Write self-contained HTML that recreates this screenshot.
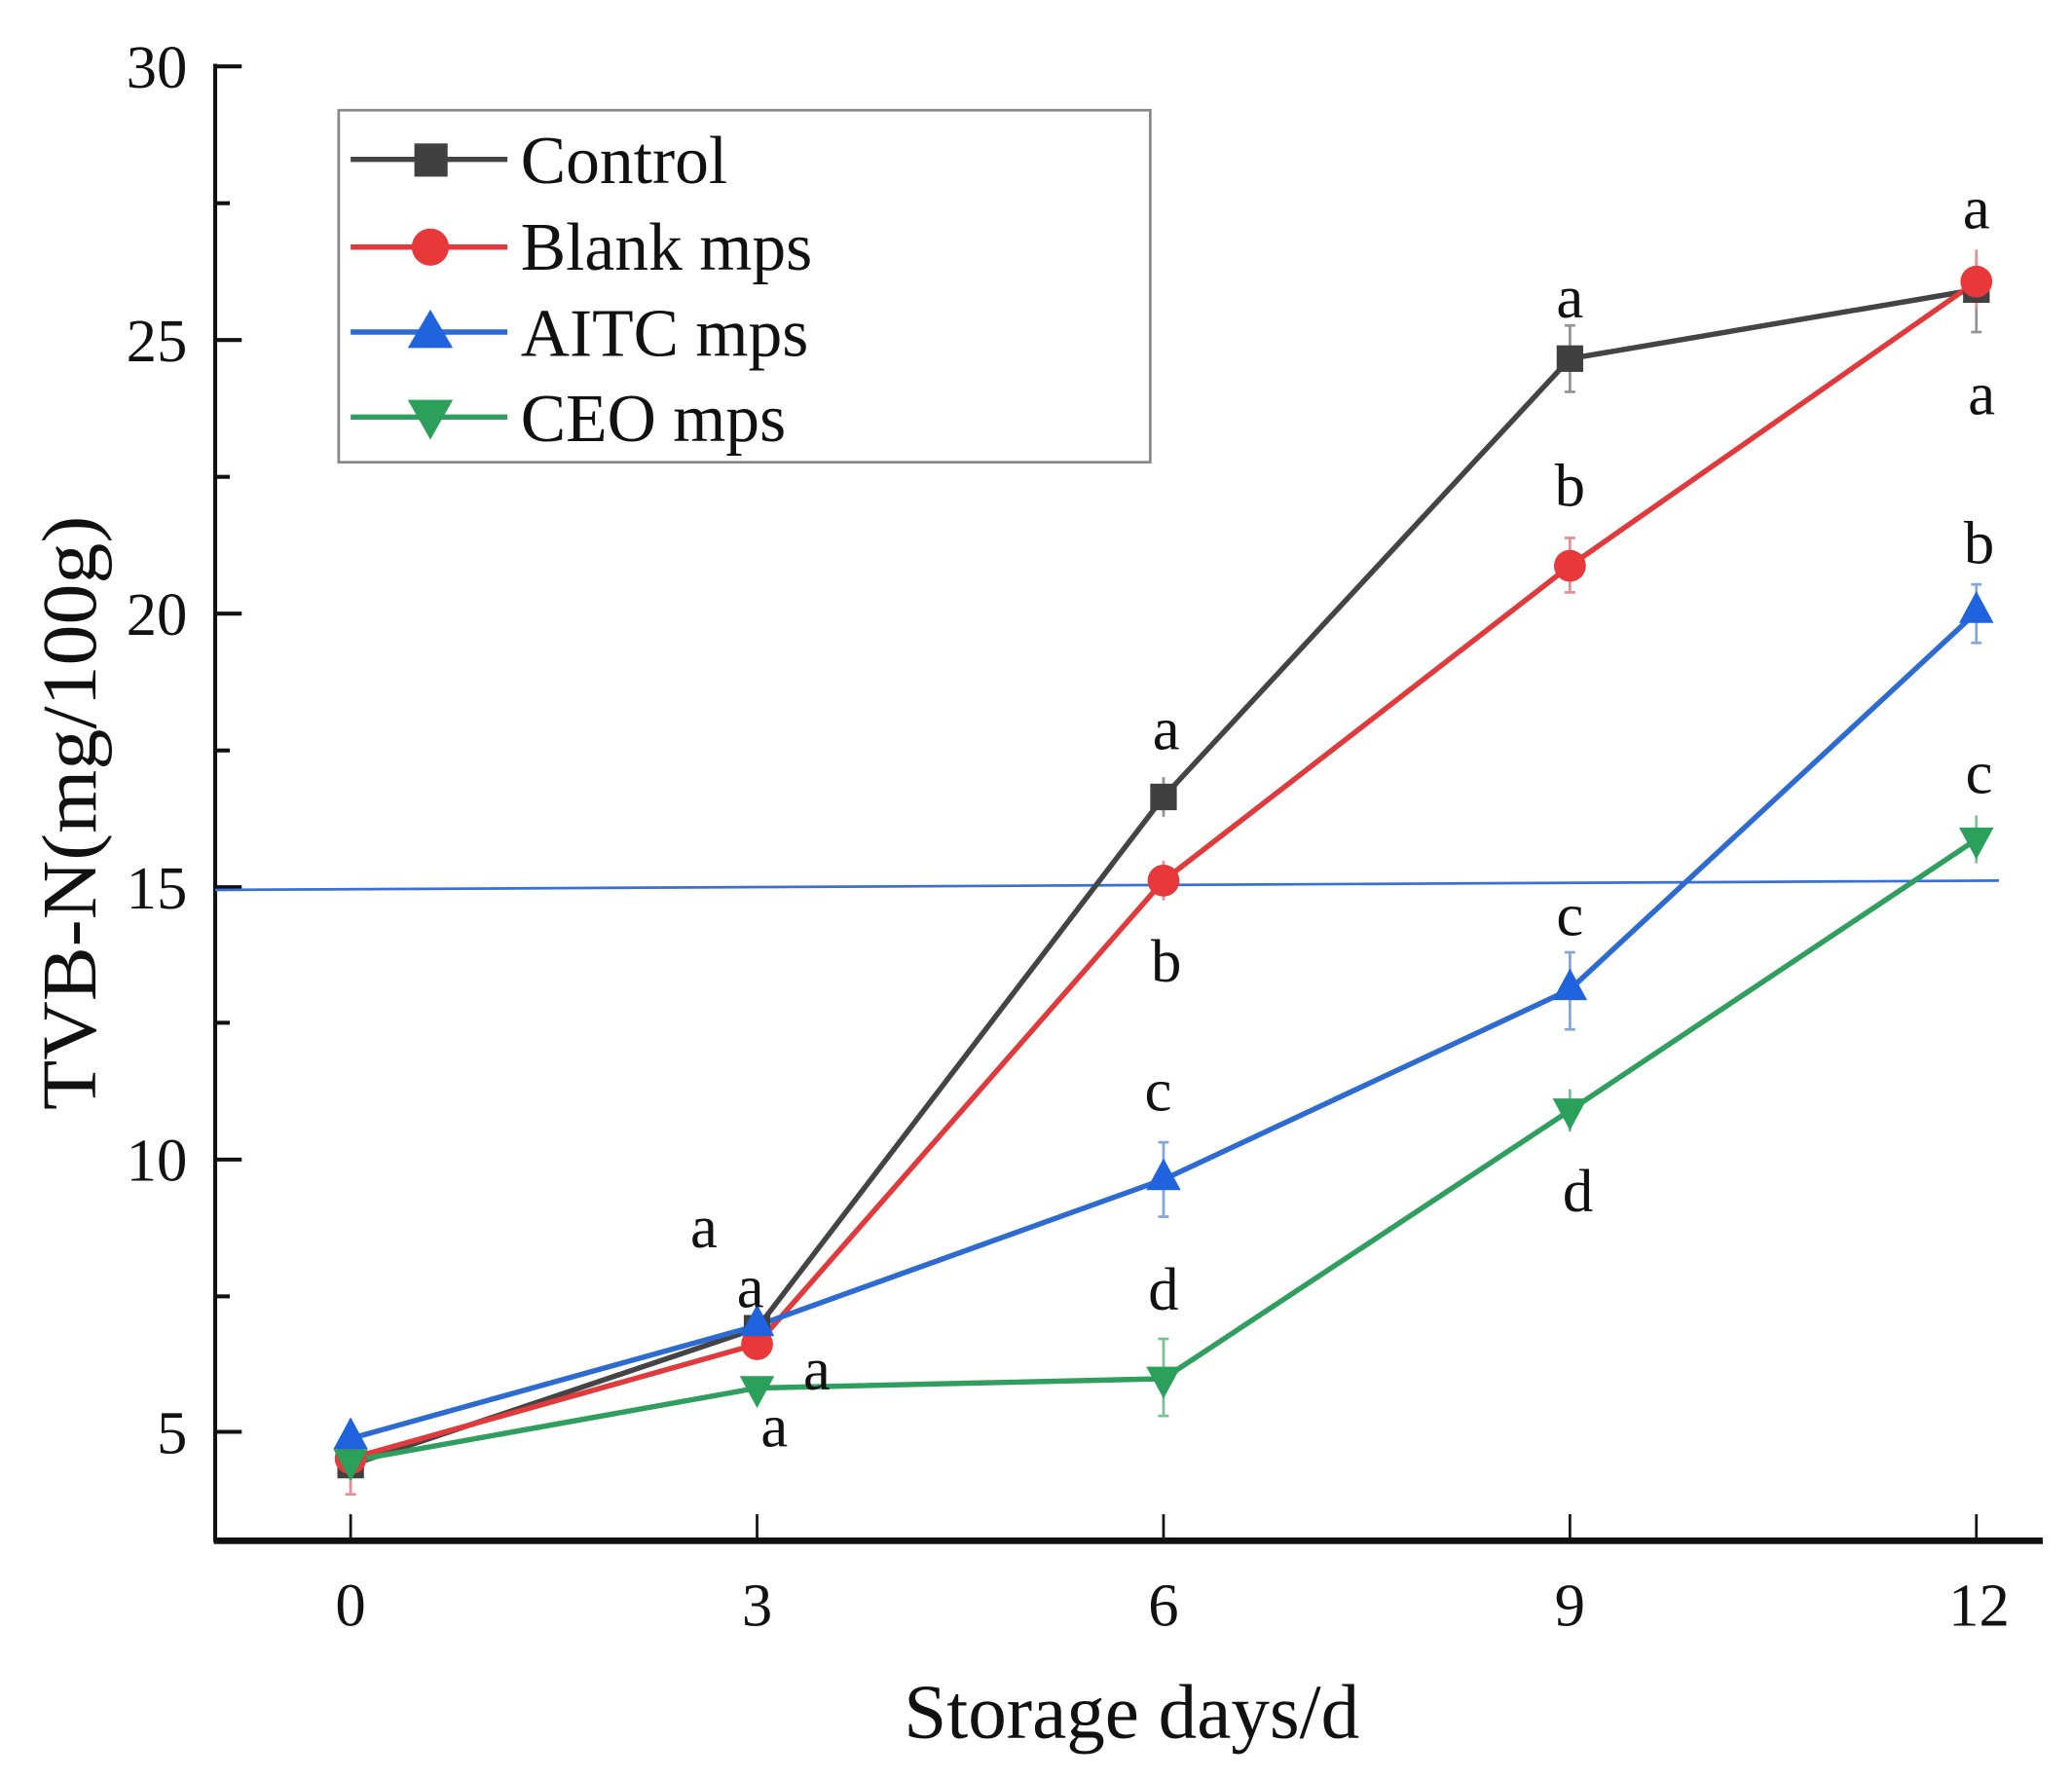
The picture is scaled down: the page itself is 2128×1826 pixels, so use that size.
<!DOCTYPE html>
<html><head><meta charset="utf-8"><style>
html,body{margin:0;padding:0;background:#fff;}
svg{display:block;}
text{font-family:"Liberation Serif",serif;fill:#111;}
</style></head><body>
<svg width="2128" height="1826" viewBox="0 0 1560 1338.6" preserveAspectRatio="none" xmlns="http://www.w3.org/2000/svg">
<rect width="1560" height="1338.6" fill="#fff"/>
<line x1="162" y1="48" x2="162" y2="1161" stroke="#111" stroke-width="3"/>
<line x1="161" y1="1160" x2="1538" y2="1160" stroke="#111" stroke-width="5"/>
<g stroke="#111" stroke-width="3">
<line x1="162" y1="50" x2="182" y2="50"/><line x1="162" y1="256" x2="182" y2="256"/>
<line x1="162" y1="462" x2="182" y2="462"/><line x1="162" y1="668" x2="182" y2="668"/>
<line x1="162" y1="873" x2="182" y2="873"/><line x1="162" y1="1078" x2="182" y2="1078"/>
<line x1="162" y1="153" x2="173" y2="153"/><line x1="162" y1="359" x2="173" y2="359"/>
<line x1="162" y1="565" x2="173" y2="565"/><line x1="162" y1="770" x2="173" y2="770"/>
<line x1="162" y1="976" x2="173" y2="976"/>
</g>
<g stroke="#111" stroke-width="2">
<line x1="264" y1="1160" x2="264" y2="1140"/><line x1="570" y1="1160" x2="570" y2="1140"/>
<line x1="876" y1="1160" x2="876" y2="1140"/><line x1="1182" y1="1160" x2="1182" y2="1140"/>
<line x1="1488" y1="1160" x2="1488" y2="1140"/>
</g>
<g font-size="46" text-anchor="end">
<text x="141" y="66">30</text><text x="141" y="272">25</text><text x="141" y="478">20</text>
<text x="141" y="684">15</text><text x="141" y="889">10</text><text x="141" y="1094">5</text>
</g>
<g font-size="46" text-anchor="middle">
<text x="264" y="1224">0</text><text x="570" y="1224">3</text><text x="876" y="1224">6</text>
<text x="1182" y="1224">9</text><text x="1490" y="1224">12</text>
</g>
<text x="852" y="1308" font-size="58" text-anchor="middle">Storage days/d</text>
<text transform="translate(72,612) rotate(-90) scale(1.06,1)" font-size="58" text-anchor="middle">TVB-N(mg/100g)</text>
<line x1="162" y1="670" x2="1505" y2="663" stroke="#3a6fd8" stroke-width="2"/>
<g stroke-width="2" opacity="0.7">
<g stroke="#666"><line x1="264" y1="1090" x2="264" y2="1120"/><line x1="876" y1="585" x2="876" y2="615"/><line x1="1182" y1="245" x2="1182" y2="295"/><line x1="1488" y1="195" x2="1488" y2="250"/>
<line x1="1178" y1="245" x2="1186" y2="245"/><line x1="1178" y1="295" x2="1186" y2="295"/><line x1="1484" y1="250" x2="1492" y2="250"/></g>
<g stroke="#e06060"><line x1="264" y1="1085" x2="264" y2="1125"/><line x1="876" y1="648" x2="876" y2="678"/><line x1="1182" y1="405" x2="1182" y2="446"/><line x1="1488" y1="188" x2="1488" y2="232"/>
<line x1="260" y1="1125" x2="268" y2="1125"/><line x1="1178" y1="405" x2="1186" y2="405"/><line x1="1178" y1="446" x2="1186" y2="446"/></g>
<g stroke="#5080d0"><line x1="264" y1="1068" x2="264" y2="1098"/><line x1="876" y1="860" x2="876" y2="916"/><line x1="1182" y1="717" x2="1182" y2="775"/><line x1="1488" y1="440" x2="1488" y2="484"/>
<line x1="872" y1="860" x2="880" y2="860"/><line x1="872" y1="916" x2="880" y2="916"/><line x1="1178" y1="717" x2="1186" y2="717"/><line x1="1178" y1="775" x2="1186" y2="775"/><line x1="1484" y1="440" x2="1492" y2="440"/><line x1="1484" y1="484" x2="1492" y2="484"/></g>
<g stroke="#40a868"><line x1="876" y1="1008" x2="876" y2="1066"/><line x1="1182" y1="820" x2="1182" y2="852"/><line x1="1488" y1="614" x2="1488" y2="650"/>
<line x1="872" y1="1008" x2="880" y2="1008"/><line x1="872" y1="1066" x2="880" y2="1066"/></g>
</g>
<g fill="none" stroke-width="4">
<polyline points="264,1103 570,1000 876,600 1182,270 1488,218" stroke="#444"/>
<polyline points="264,1098 570,1012 876,663 1182,426 1488,212" stroke="#e03a3c"/>
<polyline points="264,1083 570,998 876,888 1182,745 1488,461" stroke="#2e6bd0"/>
<polyline points="264,1100 570,1045 876,1038 1182,836 1488,632" stroke="#2f9e5e"/>
</g>
<g fill="#404040">
<rect x="254" y="1093" width="20" height="20"/><rect x="560" y="990" width="20" height="20"/><rect x="866" y="590" width="20" height="20"/><rect x="1172" y="260" width="20" height="20"/><rect x="1478" y="208" width="20" height="20"/>
</g>
<g fill="#e8383a">
<circle cx="264" cy="1098" r="12"/><circle cx="570" cy="1012" r="12"/><circle cx="876" cy="663" r="12"/><circle cx="1182" cy="426" r="12"/><circle cx="1488" cy="212" r="12"/>
</g>
<g fill="#1f63de">
<polygon points="264,1067 277,1091 251,1091"/><polygon points="570,982 583,1006 557,1006"/><polygon points="876,872 889,896 863,896"/><polygon points="1182,729 1195,753 1169,753"/><polygon points="1488,445 1501,469 1475,469"/>
</g>
<g fill="#2aa05a">
<polygon points="251,1091 277,1091 264,1115"/><polygon points="557,1036 583,1036 570,1060"/><polygon points="863,1029 889,1029 876,1053"/><polygon points="1169,827 1195,827 1182,851"/><polygon points="1475,623 1501,623 1488,647"/>
</g>
<g font-size="46" text-anchor="middle">
<text x="530" y="939">a</text><text x="565" y="984">a</text><text x="615" y="1046">a</text><text x="583" y="1089">a</text>
<text x="878" y="564">a</text><text x="878" y="739">b</text><text x="872" y="836">c</text><text x="876" y="986">d</text>
<text x="1182" y="239">a</text><text x="1182" y="381">b</text><text x="1182" y="704">c</text><text x="1188" y="912">d</text>
<text x="1488" y="172">a</text><text x="1492" y="312">a</text><text x="1490" y="424">b</text><text x="1490" y="597">c</text>
</g>
<rect x="255" y="83" width="611" height="265" fill="#fff" stroke="#888" stroke-width="2"/>
<g stroke-width="4">
<line x1="264" y1="120" x2="382" y2="120" stroke="#444"/>
<line x1="264" y1="186" x2="382" y2="186" stroke="#e03a3c"/>
<line x1="264" y1="250" x2="382" y2="250" stroke="#2e6bd0"/>
<line x1="264" y1="314" x2="382" y2="314" stroke="#2f9e5e"/>
</g>
<rect x="312" y="108" width="25" height="25" fill="#404040"/>
<circle cx="324" cy="186" r="14" fill="#e8383a"/>
<polygon points="324,233 341,262 307,262" fill="#1f63de"/>
<polygon points="307,301 341,301 324,331" fill="#2aa05a"/>
<g font-size="51">
<text x="392" y="138">Control</text><text x="392" y="203">Blank mps</text>
<text x="392" y="268">AITC mps</text><text x="392" y="332">CEO mps</text>
</g>
</svg>
</body></html>
